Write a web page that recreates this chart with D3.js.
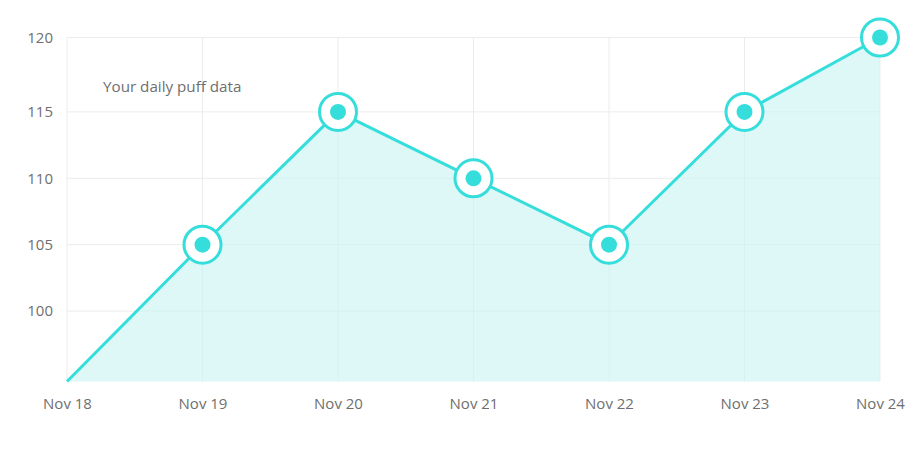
<!DOCTYPE html>
<html>
<head>
<meta charset="utf-8">
<title>Daily puffs</title>
<script src="https://cdn.jsdelivr.net/npm/d3@7"></script>
<style>
  body { margin: 0; background: #fff; }
  #chart text { font-family: "Open Sans", sans-serif; fill: #6f6f6f; }
  .grid line { stroke: #ececec; stroke-width: 1; }
</style>
</head>
<body>
<svg id="chart" width="920" height="450"></svg>
<script>
// data
const days = ["Nov 18", "Nov 19", "Nov 20", "Nov 21", "Nov 22", "Nov 23", "Nov 24"];
const puffs = [94.7, 105, 115, 110, 105, 115, 120.6];
const yTicks = [100, 105, 110, 115, 120.6];
const title = "Your daily puff data";

const svg = d3.select("#chart");
const plotL = 67, plotR = 880, plotT = 37.5, plotB = 381.5;
const lineColor = "#35dedb";

const x = d3.scalePoint().domain(days).range([plotL, plotR]);
const y = d3.scaleLinear().domain([94.7, 120.6]).range([plotB, plotT]);

// grid
const grid = svg.append("g").attr("class", "grid");
grid.selectAll(".h").data(yTicks).enter().append("line")
  .attr("x1", plotL).attr("x2", plotR)
  .attr("y1", d => y(d)).attr("y2", d => y(d));
grid.selectAll(".v").data(days).enter().append("line")
  .attr("x1", d => x(d)).attr("x2", d => x(d))
  .attr("y1", plotT).attr("y2", plotB);

// area + line
const data = days.map((d, i) => ({ day: d, v: puffs[i] }));
svg.append("path")
  .attr("fill", "#ccf5f5").attr("fill-opacity", 0.65)
  .attr("d", d3.area().x(d => x(d.day)).y0(plotB).y1(d => y(d.v))(data));
svg.append("path")
  .attr("fill", "none").attr("stroke", lineColor).attr("stroke-width", 3)
  .attr("d", d3.line().x(d => x(d.day)).y(d => y(d.v))(data));

// markers
const pts = svg.selectAll(".pt").data(data.slice(1)).enter().append("g")
  .attr("transform", d => `translate(${x(d.day)},${y(d.v)})`);
pts.append("circle").attr("r", 18.5).attr("fill", "#fff")
  .attr("stroke", lineColor).attr("stroke-width", 3);
pts.append("circle").attr("r", 8).attr("fill", lineColor);

// axes
const yAxis = svg.append("g")
  .attr("transform", `translate(${plotL},0)`)
  .call(d3.axisLeft(y).tickValues(yTicks).tickFormat(d => Math.floor(d)).tickSize(0).tickPadding(14));
const xAxis = svg.append("g")
  .attr("transform", `translate(0,${plotB})`)
  .call(d3.axisBottom(x).tickSize(0).tickPadding(17));
[yAxis, xAxis].forEach(a => {
  a.select(".domain").remove();
  a.selectAll("text").attr("font-size", 15).attr("fill", "#6f6f6f");
});

svg.append("text")
  .attr("x", 103).attr("y", 92)
  .attr("font-size", 15.2)
  .text(title);
</script>
</body>
</html>
